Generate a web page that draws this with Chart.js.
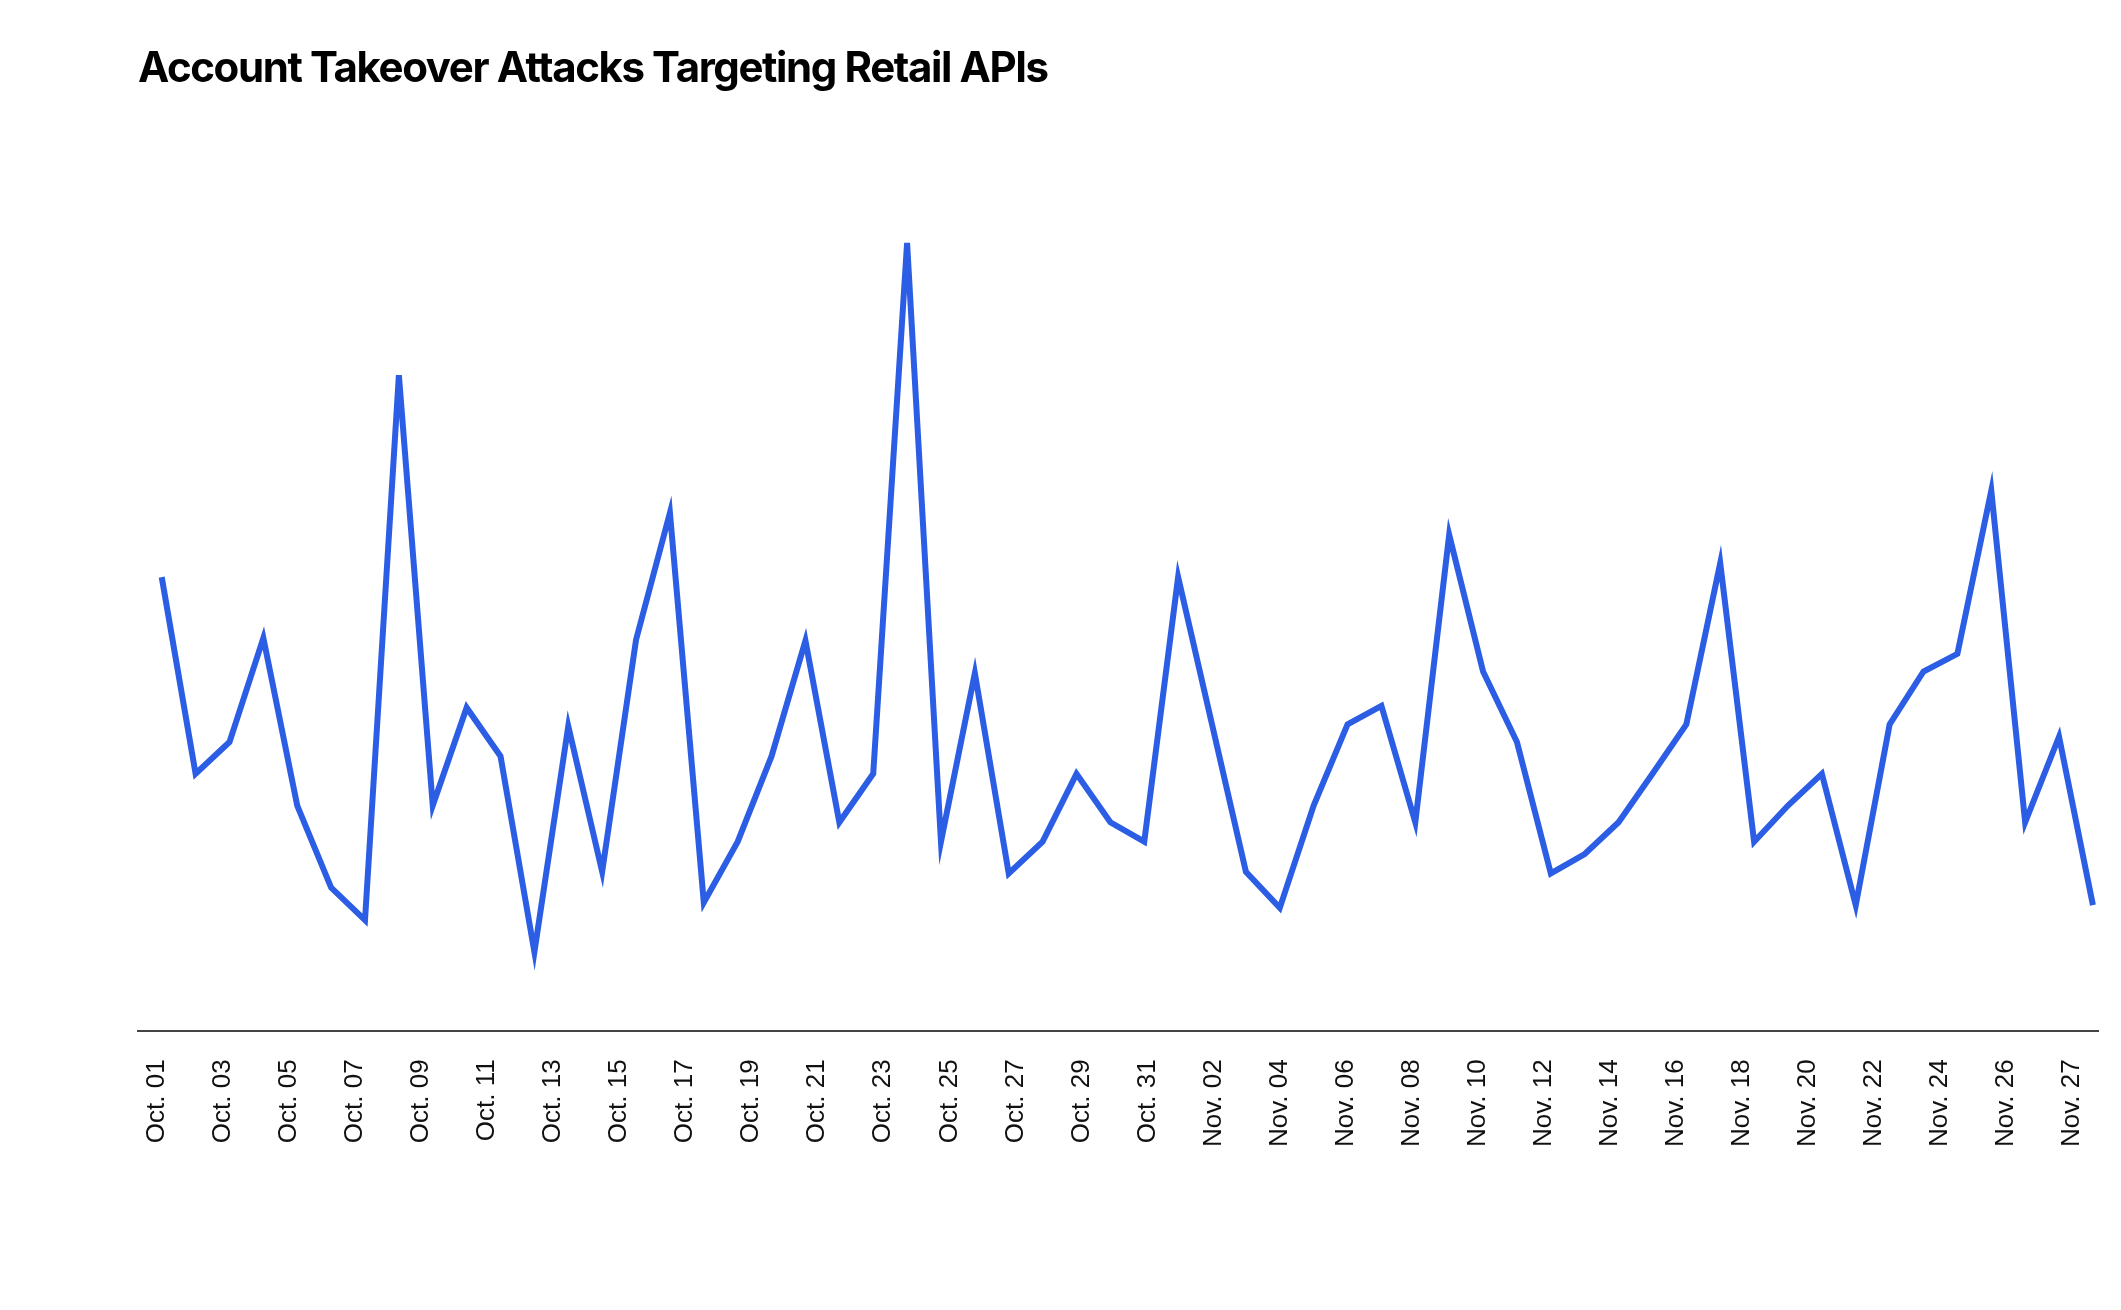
<!DOCTYPE html>
<html>
<head>
<meta charset="utf-8">
<title>Account Takeover Attacks Targeting Retail APIs</title>
<script src="https://cdn.jsdelivr.net/npm/chart.js@4.4.1/dist/chart.umd.min.js"></script>
<style>
  html, body { margin: 0; padding: 0; background: #fff; }
  #wrap { width: 2121px; height: 1310px; }
</style>
</head>
<body>
<div id="wrap"><canvas id="grafico"></canvas></div>
<script>
// giorni dei punti (uno per punto)
var dates = [
  'Oct. 01', 'Oct. 02', 'Oct. 03', 'Oct. 04', 'Oct. 05', 'Oct. 06', 'Oct. 07', 'Oct. 08',
  'Oct. 09', 'Oct. 10', 'Oct. 11', 'Oct. 12', 'Oct. 13', 'Oct. 14', 'Oct. 15', 'Oct. 16',
  'Oct. 17', 'Oct. 18', 'Oct. 19', 'Oct. 20', 'Oct. 21', 'Oct. 22', 'Oct. 23', 'Oct. 24',
  'Oct. 25', 'Oct. 26', 'Oct. 27', 'Oct. 28', 'Oct. 29', 'Oct. 30', 'Oct. 31',
  'Nov. 01', 'Nov. 02', 'Nov. 03', 'Nov. 04', 'Nov. 05', 'Nov. 06', 'Nov. 07', 'Nov. 08',
  'Nov. 09', 'Nov. 10', 'Nov. 11', 'Nov. 12', 'Nov. 13', 'Nov. 14', 'Nov. 15', 'Nov. 16',
  'Nov. 17', 'Nov. 18', 'Nov. 19', 'Nov. 20', 'Nov. 21', 'Nov. 22', 'Nov. 23', 'Nov. 24',
  'Nov. 25', 'Nov. 26', 'Nov. 27'
];

// attacchi per giorno
var attacks = [
  515, 292, 328, 446, 256, 163, 126, 744, 256, 367,
  312, 90, 346, 181, 444, 588, 146, 215, 312, 443,
  237, 292, 894, 215, 406, 179, 215, 292, 237, 215,
  515, 348, 181, 140, 256, 348, 369, 237, 563, 408,
  328, 179, 201, 237, 292, 348, 531, 215, 256, 292,
  143, 348, 408, 428, 613, 237, 334, 143
];

// etichette dell'asse (una ogni due giorni)
var tickLabels = [
  'Oct. 01', 'Oct. 03', 'Oct. 05', 'Oct. 07', 'Oct. 09', 'Oct. 11', 'Oct. 13', 'Oct. 15',
  'Oct. 17', 'Oct. 19', 'Oct. 21', 'Oct. 23', 'Oct. 25', 'Oct. 27', 'Oct. 29', 'Oct. 31',
  'Nov. 02', 'Nov. 04', 'Nov. 06', 'Nov. 08', 'Nov. 10', 'Nov. 12', 'Nov. 14', 'Nov. 16',
  'Nov. 18', 'Nov. 20', 'Nov. 22', 'Nov. 24', 'Nov. 26', 'Nov. 27'
];

var punti = attacks.map(function (v, i) {
  return { x: i, y: v };
});

// titolo un po' piu' stretto (letter-spacing negativo)
var titoloStretto = {
  id: 'titoloStretto',
  beforeDraw: function (chart) {
    var tb = chart.titleBlock;
    if (tb && !tb._stretto) {
      var draw = tb.draw;
      tb.draw = function () {
        var c = this.ctx;
        c.letterSpacing = '-1.4px';
        draw.apply(this, arguments);
        c.letterSpacing = '0px';
      };
      tb._stretto = true;
    }
  }
};

var ctx = document.getElementById('grafico');
var chart = new Chart(ctx, {
  type: 'line',
  plugins: [titoloStretto],
  data: {
    datasets: [{
      label: 'Account takeover attacks',
      data: punti,
      borderColor: '#2c5de5',
      backgroundColor: '#2c5de5',
      borderWidth: 6,
      pointRadius: 0,
      pointHoverRadius: 0,
      tension: 0,
      fill: false
    }]
  },
  options: {
    responsive: true,
    maintainAspectRatio: false,
    devicePixelRatio: 1,
    animation: false,
    layout: {
      padding: { left: 138, right: 23, top: 0, bottom: 135 }
    },
    plugins: {
      legend: { display: false },
      tooltip: {
        callbacks: {
          title: function (items) { return dates[items[0].parsed.x]; }
        }
      },
      title: {
        display: true,
        text: 'Account Takeover Attacks Targeting Retail APIs',
        align: 'start',
        color: '#000',
        font: { family: 'Inter', size: 42, weight: '700' },
        padding: { top: 44, bottom: 55 }
      }
    },
    scales: {
      x: {
        type: 'linear',
        min: -0.7,
        max: 57.15,
        display: false
      },
      xd: {
        type: 'linear',
        position: 'bottom',
        min: -0.58,
        max: 58.8,
        afterBuildTicks: function (axis) {
          axis.ticks = tickLabels.map(function (t, k) { return { value: k * 2 }; });
        },
        afterFit: function (axis) {
          axis.paddingLeft = 0;
          axis.paddingRight = 0;
        },
        grid: { display: false, drawTicks: false },
        border: { display: true, color: '#444', width: 2 },
        ticks: {
          autoSkip: false,
          maxRotation: 90,
          minRotation: 90,
          padding: 28,
          color: '#111',
          font: { family: 'Liberation Sans', size: 26 },
          callback: function (value) { return tickLabels[value / 2]; }
        }
      },
      y: {
        min: 0,
        max: 1000,
        display: false
      }
    }
  }
});
</script>
</body>
</html>
